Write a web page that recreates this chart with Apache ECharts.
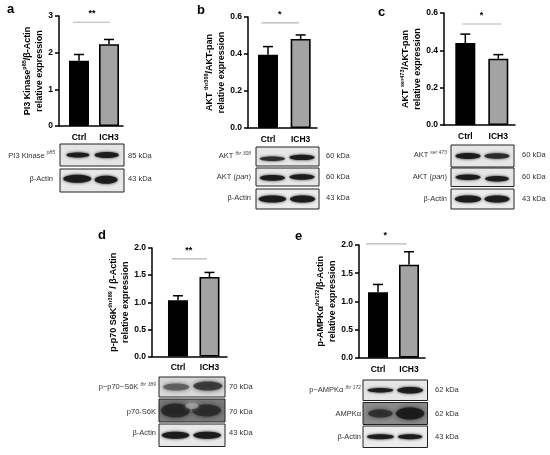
<!DOCTYPE html>
<html><head><meta charset="utf-8">
<script src="https://cdn.jsdelivr.net/npm/echarts@6/dist/echarts.min.js"></script>
<style>html,body{margin:0;padding:0;background:#fff}#c{width:550px;height:455px}</style>
</head><body><div id="c"></div>
<script>
// ---------- data ----------
const categories = ['Ctrl', 'ICH3'];
const pi3Values = [1.78, 2.23];
const pi3Errors = [0.17, 0.13];
const aktThrValues = [0.396, 0.481];
const aktThrErrors = [0.044, 0.022];
const aktSerValues = [0.439, 0.355];
const aktSerErrors = [0.048, 0.022];
const s6kValues = [1.035, 1.465];
const s6kErrors = [0.085, 0.085];
const ampkValues = [1.16, 1.65];
const ampkErrors = [0.14, 0.23];
const pi3Ticks = [0, 1, 2, 3];
const aktTicks = [0.0, 0.2, 0.4, 0.6];
const ratioTicks = [0.0, 0.5, 1.0, 1.5, 2.0];
const sigLevels = [2.83, 0.568, 0.541, 1.80, 2.02];
const sigMarks = ['**', '*', '*', '**', '*'];

// ---------- layout / styling ----------
const FONT = 'Liberation Sans, Arial, sans-serif';
const panels = [
  {values: pi3Values, errors: pi3Errors, ticks: pi3Ticks, dec: 0, left: 59, top: 16, width: 64, height: 110, xmin: -0.667, xmax: 1.467, nameGap: 13,
   title: '{t|PI3 Kinase}{s|p85}{t|/β-Actin}\n{t|relative expression}', sigX: [-0.2, 1.03], starX: 0.43},
  {values: aktThrValues, errors: aktThrErrors, ticks: aktTicks, dec: 1, left: 248, top: 17, width: 69, height: 111, xmin: -0.612, xmax: 1.5, nameGap: 18.5,
   title: '{t|AKT }{s|thr308}{t|/AKT-pan}\n{t|relative expression}', sigX: [-0.2, 0.95], starX: 0.36},
  {values: aktSerValues, errors: aktSerErrors, ticks: aktTicks, dec: 1, left: 444, top: 13, width: 71, height: 112, xmin: -0.646, xmax: 1.506, nameGap: 17.5,
   title: '{t|AKT }{s|ser473}{t|/AKT-pan}\n{t|relative expression}', sigX: [-0.09, 1.1], starX: 0.49},
  {values: s6kValues, errors: s6kErrors, ticks: ratioTicks, dec: 1, left: 152, top: 248, width: 75, height: 108.5, xmin: -0.825, xmax: 1.556, nameGap: 13.5,
   title: '{t|p-p70 S6K}{s|thr389}{t| / β-Actin}\n{t|relative expression}', sigX: [-0.2, 0.92], starX: 0.34},
  {values: ampkValues, errors: ampkErrors, ticks: ratioTicks, dec: 1, left: 359, top: 245, width: 66, height: 112.7, xmin: -0.613, xmax: 1.516, nameGap: 20,
   title: '{t|p-AMPKα}{s|thr172}{t|/β-Actin}\n{t|relative expression}', sigX: [-0.39, 0.92], starX: 0.23}
];

const grids = [], xAxes = [], yAxes = [], series = [];
panels.forEach((p, i) => {
  const tk = p.ticks;
  const ymax = tk[tk.length - 1];
  const step = tk[1] - tk[0];
  grids.push({left: p.left, top: p.top, width: p.width, height: p.height});
  xAxes.push({
    gridIndex: i, type: 'value', min: p.xmin, max: p.xmax,
    splitLine: {show: false}, axisTick: {show: false},
    axisLine: {show: true, onZero: false, lineStyle: {color: '#000', width: 1.5}},
    axisLabel: {customValues: [0, 1], formatter: v => categories[Math.round(v)], fontWeight: 'bold', fontSize: 8.5, color: '#000', margin: 7, fontFamily: FONT}
  });
  yAxes.push({
    gridIndex: i, type: 'value', min: 0, max: ymax, interval: step,
    axisLine: {show: true, onZero: false, lineStyle: {color: '#000', width: 1.5}},
    axisTick: {show: true, length: 4, lineStyle: {color: '#000', width: 1.5}},
    splitLine: {show: false},
    axisLabel: {fontWeight: 'bold', fontSize: 8.5, color: '#000', margin: 6, fontFamily: FONT, formatter: v => v.toFixed(p.dec)},
    name: p.title, nameLocation: 'middle', nameRotate: 90, nameGap: p.nameGap,
    nameTextStyle: {
      rich: {
        t: {fontSize: 9, fontWeight: 'bold', color: '#000', fontFamily: FONT, lineHeight: 12},
        s: {fontSize: 5.5, fontWeight: 'bold', color: '#000', fontFamily: FONT, lineHeight: 12, verticalAlign: 'top'}
      }
    }
  });
  series.push({
    type: 'bar', xAxisIndex: i, yAxisIndex: i, barWidth: 20, z: 3,
    data: p.values.map((v, k) => ({value: [k, v], itemStyle: {color: k ? '#a3a3a3' : '#000'}})),
    itemStyle: {borderColor: '#000', borderWidth: 1.6}
  });
  series.push({
    type: 'custom', xAxisIndex: i, yAxisIndex: i, z: 2,
    data: p.values.map((v, k) => [k, v, v + p.errors[k]]),
    renderItem: (params, api) => {
      const a = api.coord([api.value(0), api.value(1)]);
      const b = api.coord([api.value(0), api.value(2)]);
      return {type: 'group', children: [
        {type: 'line', shape: {x1: a[0], y1: a[1], x2: b[0], y2: b[1]}, style: {stroke: '#000', lineWidth: 1.5}},
        {type: 'line', shape: {x1: b[0] - 5, y1: b[1], x2: b[0] + 5, y2: b[1]}, style: {stroke: '#000', lineWidth: 1.5}}
      ]};
    }
  });
  series.push({
    type: 'custom', xAxisIndex: i, yAxisIndex: i, z: 2, clip: false,
    data: [[p.sigX[0], sigLevels[i]]],
    renderItem: (params, api) => {
      const a = api.coord([p.sigX[0], sigLevels[i]]);
      const b = api.coord([p.sigX[1], sigLevels[i]]);
      const s = api.coord([p.starX, sigLevels[i]]);
      return {type: 'group', children: [
        {type: 'line', shape: {x1: a[0], y1: a[1], x2: b[0], y2: b[1]}, style: {stroke: '#b5b5b5', lineWidth: 1.2}},
        {type: 'text', x: s[0], y: s[1] - 4, style: {text: sigMarks[i], fill: '#000', font: 'bold 9px ' + FONT, align: 'center', verticalAlign: 'bottom'}}
      ]};
    }
  });
});

// ---------- western blot images (decoration) ----------
function blot(x, y, w, h, bg, bands) {
  const ch = [{type: 'rect', shape: {x: x, y: y, width: w, height: h}, style: {fill: bg, stroke: '#222', lineWidth: 1}, z: 1}];
  bands.forEach(b => {
    ch.push({type: 'ellipse', shape: {cx: x + b[0] * w, cy: y + b[1] * h, rx: b[2] * w, ry: b[3]},
      style: {fill: b[4], shadowBlur: b[5] || 3, shadowColor: b[4], opacity: b[6] || 0.95}, z: 2});
  });
  return {type: 'group', children: ch};
}
function lbl(x, y, text, align) {
  return {type: 'text', x: x, y: y, z: 3, style: {text: text, align: align, verticalAlign: 'middle', fill: '#333', font: '7.5px ' + FONT,
    rich: {n: {fontSize: 7.5, fill: '#333', fontFamily: FONT}, s: {fontSize: 5, fill: '#444', fontStyle: 'italic', fontFamily: FONT, verticalAlign: 'top', lineHeight: 10}, i: {fontSize: 7.5, fontStyle: 'italic', fill: '#333', fontFamily: FONT}}}};
}
const D = '#1a1a1a';
const graphics = [
  // panel letters
  {type: 'text', x: 7, y: 3, style: {text: 'a', font: 'bold 13px ' + FONT, fill: '#000'}},
  {type: 'text', x: 197, y: 4, style: {text: 'b', font: 'bold 13px ' + FONT, fill: '#000'}},
  {type: 'text', x: 378, y: 6, style: {text: 'c', font: 'bold 13px ' + FONT, fill: '#000'}},
  {type: 'text', x: 98, y: 229, style: {text: 'd', font: 'bold 13px ' + FONT, fill: '#000'}},
  {type: 'text', x: 295, y: 230, style: {text: 'e', font: 'bold 13px ' + FONT, fill: '#000'}},
  // a
  blot(60, 144, 64, 22, '#e4e4e4', [[0.28, 0.5, 0.18, 2.5, D], [0.73, 0.5, 0.19, 3, D]]),
  blot(60, 169, 64, 23, '#e8e8e8', [[0.27, 0.42, 0.22, 4, D], [0.72, 0.47, 0.18, 4, D]]),
  lbl(55, 155.5, '{n|PI3 Kinase }{s|p85}', 'right'), lbl(53, 178.5, '{n|β-Actin}', 'right'),
  lbl(128, 155.5, '85 kDa', 'left'), lbl(128, 178.5, '43 kDa', 'left'),
  // b
  blot(256, 147, 63, 19, '#e6e6e6', [[0.26, 0.62, 0.2, 2.2, '#2a2a2a'], [0.73, 0.55, 0.2, 2.6, D]]),
  blot(256, 168, 63, 18, '#e6e6e6', [[0.26, 0.55, 0.2, 2.8, D], [0.73, 0.5, 0.2, 2.8, D]]),
  blot(256, 189, 63, 20, '#ececec', [[0.26, 0.5, 0.22, 3.5, D], [0.74, 0.5, 0.2, 3.5, D]]),
  lbl(251, 156, '{n|AKT }{s|thr 308}', 'right'), lbl(251, 177, '{n|AKT (}{i|pan}{n|)}', 'right'), lbl(251, 198, '{n|β-Actin}', 'right'),
  lbl(326, 156, '60 kDa', 'left'), lbl(326, 177, '60 kDa', 'left'), lbl(326, 198, '43 kDa', 'left'),
  // c
  blot(451, 145, 63, 22, '#e6e6e6', [[0.27, 0.5, 0.2, 3, D], [0.73, 0.5, 0.2, 2.8, '#2a2a2a']]),
  blot(451, 168, 63, 18.5, '#e6e6e6', [[0.27, 0.5, 0.2, 2.8, D], [0.73, 0.58, 0.19, 2.8, D]]),
  blot(451, 189, 63, 20, '#ececec', [[0.27, 0.5, 0.21, 3.5, D], [0.73, 0.5, 0.2, 3.5, D]]),
  lbl(447, 155, '{n|AKT }{s|ser 473}', 'right'), lbl(447, 177, '{n|AKT (}{i|pan}{n|)}', 'right'), lbl(447, 198.5, '{n|β-Actin}', 'right'),
  lbl(522, 155, '60 kDa', 'left'), lbl(522, 177, '60 kDa', 'left'), lbl(522, 198.5, '43 kDa', 'left'),
  // d
  blot(159, 377, 66, 20, '#d8d8d8', [[0.26, 0.5, 0.2, 3.5, '#555', 4, 0.8], [0.74, 0.45, 0.22, 4.5, '#333', 4, 0.85]]),
  blot(159, 399, 66, 23, '#7a7a7a', [[0.25, 0.5, 0.22, 7, '#222', 5, 0.8], [0.72, 0.5, 0.22, 6, '#262626', 5, 0.8], [0.5, 0.3, 0.1, 3, '#aaa', 4, 0.6]]),
  blot(159, 424, 66, 22.5, '#e8e8e8', [[0.25, 0.5, 0.21, 3.5, D], [0.73, 0.5, 0.21, 3.5, D]]),
  lbl(156, 387, '{n|p−p70−S6K }{s|thr 389}', 'right'), lbl(156, 411.5, '{n|p70-S6K}', 'right'), lbl(156, 433, '{n|β-Actin}', 'right'),
  lbl(229, 387, '70 kDa', 'left'), lbl(229, 411.5, '70 kDa', 'left'), lbl(229, 433, '43 kDa', 'left'),
  // e
  blot(363, 380, 64.5, 20.5, '#e6e6e6', [[0.27, 0.5, 0.2, 2.2, D], [0.73, 0.5, 0.2, 3.2, D]]),
  blot(363, 402.5, 64.5, 22, '#8a8a8a', [[0.27, 0.5, 0.19, 4, '#2a2a2a', 4, 0.85], [0.73, 0.5, 0.22, 6, '#1a1a1a', 4, 0.9]]),
  blot(363, 426, 64.5, 21.5, '#ececec', [[0.27, 0.5, 0.21, 2.5, D], [0.73, 0.5, 0.19, 2.5, D]]),
  lbl(361, 390, '{n|p−AMPKα }{s|thr 172}', 'right'), lbl(361, 414, '{n|AMPKα}', 'right'), lbl(361, 436.5, '{n|β-Actin}', 'right'),
  lbl(435, 390, '62 kDa', 'left'), lbl(435, 414, '62 kDa', 'left'), lbl(435, 436.5, '43 kDa', 'left')
];

const chart = echarts.init(document.getElementById('c'), null, {renderer: 'canvas'});
chart.setOption({
  animation: false,
  backgroundColor: '#fff',
  textStyle: {fontFamily: FONT},
  grid: grids, xAxis: xAxes, yAxis: yAxes, series: series,
  graphic: graphics
});
</script>
</body></html>
